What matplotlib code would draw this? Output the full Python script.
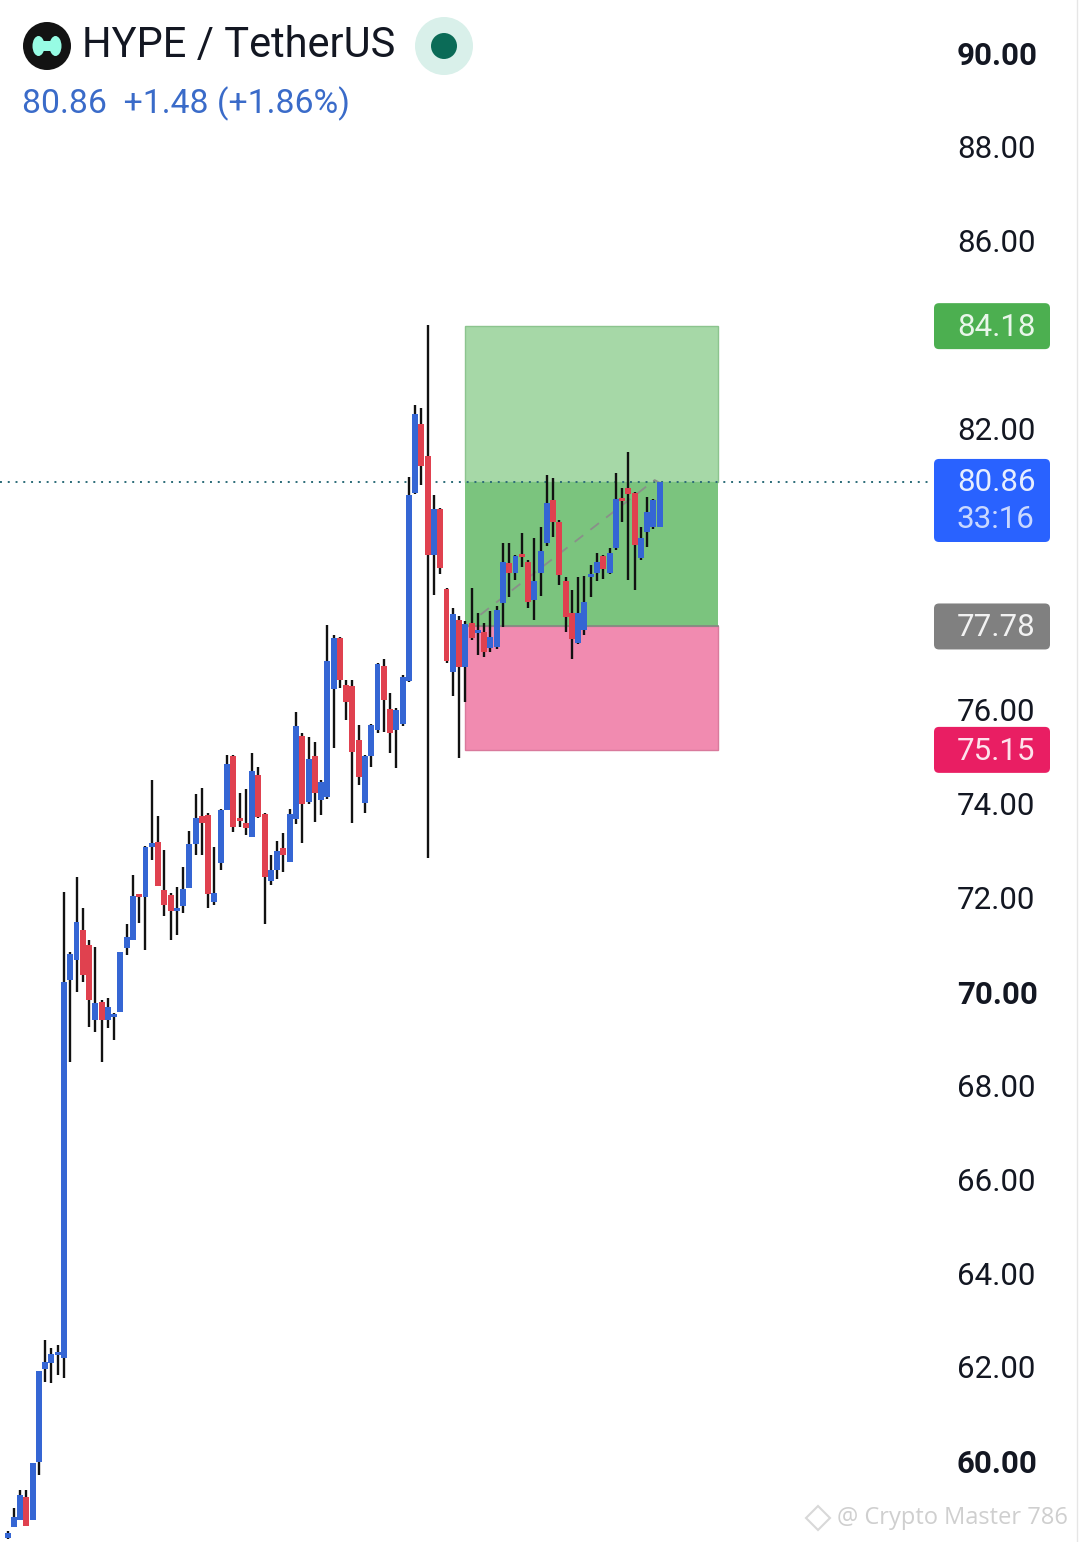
import matplotlib
matplotlib.use('Agg')
import matplotlib.pyplot as plt
import numpy as np
from matplotlib.patches import Rectangle, FancyBboxPatch, Circle, Ellipse

plt.rcParams['font.family'] = ['Roboto', 'DejaVu Sans']

# HYPE / USDT candles
opens = [58.36, 58.59, 58.74, 59.23, 58.74, 59.98, 61.96, 62.09, 62.26, 62.20,
         70.25, 70.68, 71.31, 71.00, 69.40, 69.78, 69.40, 69.46, 69.57, 70.93,
         71.10, 72.06, 72.02, 73.08, 73.19, 72.17, 72.06, 71.72, 71.83, 72.21,
         73.15, 73.74, 73.76, 71.90, 72.74, 73.87, 75.02, 73.70, 73.60, 73.30,
         74.62, 73.79, 72.36, 72.60, 73.06, 72.76, 73.68, 75.45, 74.04, 75.02,
         74.08, 74.15, 76.45, 77.54, 76.54, 76.51, 75.36, 74.02, 75.02, 75.58,
         76.94, 76.02, 75.58, 75.70, 76.62, 80.63, 82.10, 81.41, 79.30, 80.29,
         78.58, 76.81, 77.92, 76.92, 77.86, 77.64, 77.66, 77.32, 77.35, 78.28,
         79.14, 78.92, 79.30, 79.16, 78.35, 78.92, 79.56, 80.48, 80.00, 78.75,
         78.07, 77.43, 77.71, 78.84, 78.92, 79.28, 78.92, 79.45, 80.50, 80.73,
         80.63, 79.24, 79.80, 79.90, 79.90]
highs = [58.50, 59.00, 59.38, 59.38, 59.96, 61.92, 62.58, 62.41, 62.47, 72.12,
         70.85, 72.44, 71.78, 71.10, 70.95, 69.82, 69.87, 69.55, 70.85, 71.44,
         72.49, 72.08, 73.10, 74.51, 73.74, 73.02, 72.10, 72.23, 72.66, 73.42,
         74.21, 74.34, 73.80, 73.07, 73.90, 75.04, 75.04, 74.23, 74.32, 75.09,
         74.79, 73.80, 72.91, 73.21, 73.38, 73.89, 75.96, 75.50, 75.43, 75.32,
         74.50, 77.81, 77.60, 77.56, 76.64, 76.64, 75.68, 75.05, 75.70, 77.00,
         77.09, 76.36, 76.05, 76.75, 80.97, 82.50, 82.44, 84.20, 80.58, 80.30,
         78.60, 78.18, 78.00, 77.90, 78.60, 78.07, 77.86, 78.11, 78.22, 79.56,
         79.56, 79.30, 79.77, 79.20, 79.67, 79.90, 81.00, 80.95, 80.05, 78.84,
         78.56, 78.84, 78.86, 79.10, 79.35, 79.30, 79.45, 81.05, 80.73, 81.50,
         80.65, 79.90, 80.54, 80.50, 80.86]
lows = [58.33, 58.59, 58.74, 58.62, 58.74, 59.70, 61.68, 61.66, 61.83, 61.77,
        68.50, 69.99, 70.20, 69.25, 69.14, 68.50, 69.23, 68.97, 69.57, 70.78,
        71.10, 71.46, 70.89, 72.80, 72.25, 71.61, 71.10, 71.20, 71.68, 72.20,
        72.90, 72.90, 71.78, 71.85, 72.60, 73.87, 73.40, 73.50, 73.34, 73.30,
        73.70, 71.44, 72.27, 72.40, 72.55, 72.76, 73.57, 73.17, 74.00, 73.62,
        73.77, 74.10, 75.19, 76.47, 75.79, 73.59, 74.40, 73.80, 74.79, 75.50,
        75.53, 75.09, 74.77, 75.65, 76.60, 80.60, 80.80, 72.85, 78.45, 78.90,
        77.00, 76.30, 74.98, 76.17, 77.50, 77.17, 77.13, 77.24, 77.30, 77.77,
        78.41, 78.77, 79.05, 78.18, 77.92, 78.43, 79.50, 79.69, 78.67, 77.66,
        77.09, 77.40, 77.60, 78.41, 78.75, 78.80, 78.90, 79.40, 80.00, 78.77,
        78.56, 79.20, 79.48, 79.85, 79.90]
closes = [58.47, 58.81, 59.28, 58.62, 59.96, 61.92, 62.11, 62.28, 62.28, 70.21,
          70.80, 71.48, 70.36, 69.82, 69.76, 69.40, 69.68, 69.48, 70.85, 71.17,
          72.04, 72.02, 73.08, 73.17, 72.25, 71.85, 71.72, 71.74, 72.19, 73.15,
          73.70, 73.60, 72.08, 72.10, 73.87, 74.85, 73.51, 73.64, 73.49, 74.70,
          73.72, 72.44, 72.60, 73.00, 72.91, 73.79, 75.66, 74.00, 74.96, 74.23,
          74.47, 77.05, 77.54, 76.64, 76.17, 75.11, 74.57, 75.02, 75.68, 76.98,
          76.22, 75.51, 76.00, 76.70, 80.58, 82.31, 81.20, 79.30, 80.29, 79.03,
          77.05, 78.05, 76.92, 77.84, 77.54, 77.68, 77.24, 77.56, 78.13, 79.16,
          78.92, 79.28, 79.26, 78.30, 78.75, 79.39, 80.41, 80.00, 78.88, 77.98,
          77.52, 78.07, 78.30, 78.86, 79.16, 79.00, 79.35, 80.50, 80.45, 80.60,
          79.52, 79.67, 80.22, 80.48, 80.86]

# long position tool
target_price = 84.18
current_price = 80.86
entry_price = 77.78
stop_price = 75.15
countdown = '33:16'
zone_start, zone_end = 73.0, 113.3

# dashed trend line drawn on the chart
trend_x = [75.4, 103.2, 104.0]
trend_y = [78.03, 80.90, 80.84]

price_ticks = [60, 62, 64, 66, 68, 70, 72, 74, 76, 82, 86, 88, 90]
bold_ticks = [60, 70, 90]

up_color = '#3566d4'
down_color = '#e0414f'

W, H = 1080, 1542
px_per_unit = 46.93
y_low, y_high = 58.27, 91.13

fig = plt.figure(figsize=(W / 100, H / 100), dpi=100)
fig.patch.set_facecolor('white')
ax = fig.add_axes([0, 0, 930 / W, 1])
ax.set_xlim(-1.2, 147.1)
ax.set_ylim(y_low, y_high)
for s in ax.spines.values():
    s.set_visible(False)
ax.set_xticks([])
ax.yaxis.tick_right()
ax.set_yticks(price_ticks)
ax.set_yticklabels([f'{t:.2f}' for t in price_ticks])
ax.tick_params(axis='y', length=0, pad=19.4, labelsize=22.5, labelcolor='#131722')
for lbl, t in zip(ax.get_yticklabels(), price_ticks):
    if t in bold_ticks:
        lbl.set_fontweight('bold')

# position zones
ax.add_patch(Rectangle((zone_start, current_price), zone_end - zone_start,
                       target_price - current_price, fc='#a6d8a7', ec='#8cc48e', lw=1, zorder=1))
ax.add_patch(Rectangle((zone_start, entry_price), zone_end - zone_start,
                       current_price - entry_price, fc='#7bc47e', ec='none', zorder=1))
ax.add_patch(Rectangle((zone_start, stop_price), zone_end - zone_start,
                       entry_price - stop_price, fc='#f18bb0', ec='#d97a9c', lw=1, zorder=1))
ax.plot([zone_start, zone_end], [entry_price, entry_price], color='#7f8c80', lw=1.2, zorder=1.5)

ax.axhline(current_price, color='#2b6b78', ls=(0, (1, 3)), lw=1.4, zorder=2)
ax.plot(trend_x, trend_y, color='#8a8f8a', ls=(0, (6, 5)), lw=1.3, zorder=2.2)

# candles
o = np.array(opens)
h = np.array(highs)
l = np.array(lows)
c = np.array(closes)
idx = np.arange(len(o))
colors = [up_color if cc >= oo else down_color for oo, cc in zip(o, c)]
ax.vlines(idx, l, h, color='#111111', lw=1.7, zorder=3)
ax.bar(idx, np.maximum(np.abs(c - o), 0.06), bottom=np.minimum(o, c), width=0.95,
       color=colors, linewidth=0, zorder=4)

# price labels on the scale
lab = fig.add_axes([930 / W, 0, 150 / W, 1])
lab.set_xlim(0, 150)
lab.set_ylim(y_low, y_high)
lab.axis('off')
asp = 1 / px_per_unit


def tag(price, top, bottom, fc):
    lab.add_patch(FancyBboxPatch((4, price - bottom), 116, top + bottom,
                                 boxstyle='round,pad=0,rounding_size=5',
                                 mutation_aspect=asp, fc=fc, ec='none'))


tag(target_price, 0.49, 0.49, '#4caf50')
lab.text(27, target_price - 0.03, f'{target_price:.2f}', va='center', ha='left', fontsize=22.5, color='#e9f6ea')
tag(current_price, 0.49, 1.28, '#2962ff')
lab.text(27, current_price - 0.02, f'{current_price:.2f}', va='center', ha='left', fontsize=22.5, color='#e6eeff')
lab.text(27, current_price - 0.8, countdown, va='center', ha='left', fontsize=22.5, color='#c9d8ff')
tag(entry_price, 0.49, 0.49, '#808080')
lab.text(27, entry_price - 0.03, f'{entry_price:.2f}', va='center', ha='left', fontsize=22.5, color='#f2f2f2')
tag(stop_price, 0.49, 0.49, '#e91e63')
lab.text(27, stop_price - 0.03, f'{stop_price:.2f}', va='center', ha='left', fontsize=22.5, color='#fde3ec')
lab.plot([147, 147], [y_low, y_high], color='#e6e6e6', lw=1)

# header
top = fig.add_axes([0, 0, 1, 1], facecolor='none')
top.set_xlim(0, W)
top.set_ylim(H, 0)
top.axis('off')
top.add_patch(Circle((47, 46), 24, fc='#131313', ec='none'))
top.add_patch(Ellipse((38.5, 46), 12, 20, fc='#97fce4', ec='none'))
top.add_patch(Ellipse((55.5, 46), 12, 20, fc='#97fce4', ec='none'))
top.add_patch(Rectangle((38, 41), 18, 10, fc='#97fce4', ec='none'))
top.text(82, 46, 'HYPE / TetherUS', va='center', ha='left', fontsize=30, color='#131722')
top.add_patch(Circle((444, 46), 29, fc='#d9f0ea', ec='none'))
top.add_patch(Circle((444, 46), 13, fc='#0b6b57', ec='none'))
top.text(22, 104, f'{current_price:.2f}  +1.48 (+1.86%)', va='center', ha='left',
         fontsize=24.3, color='#3a6bc9')

# watermark
top.plot([818], [1518], marker='D', ms=12, mfc='none', mec='#d8d8d8', mew=1.5)
top.text(837, 1518, '@ Crypto Master 786', va='center', ha='left', fontsize=17,
         color='#cfcfcf', family=['Open Sans', 'DejaVu Sans'])

fig.savefig('out.png', dpi=100)
